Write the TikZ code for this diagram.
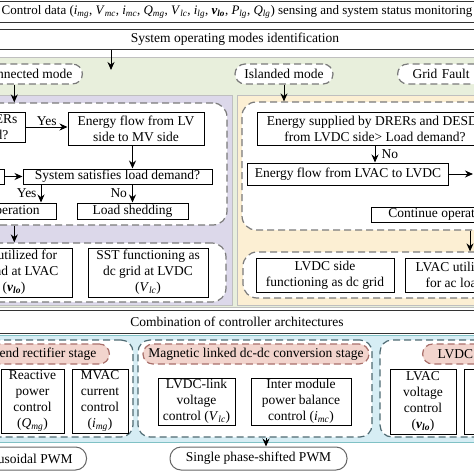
\documentclass[tikz,border=0pt]{standalone}
\usepackage{fontspec}
\setmainfont{Liberation Serif}
\usetikzlibrary{arrows.meta,calc,shadows}
\definecolor{gbg}{HTML}{E8EFDC}
\definecolor{pbg}{HTML}{DCD8EA}
\definecolor{ybg}{HTML}{FCEFD3}
\definecolor{bbg}{HTML}{D6EDF4}
\definecolor{pinkf}{HTML}{F2D4CD}
\definecolor{pinkd}{HTML}{A9706B}
\definecolor{slate}{HTML}{4E6A72}
\definecolor{dgray}{HTML}{7A7A7A}
\newcommand\vi[2]{\textit{#1}\textsubscript{\textit{#2}}}
\newcommand\vb[2]{\textbf{\textit{#1}}\textsubscript{\textbf{\textit{#2}}}}
\begin{document}
\begin{tikzpicture}[x=1pt,y=-1pt,
  every node/.style={font=\fontsize{13.5}{16}\selectfont, inner sep=0pt},
  shad/.style={drop shadow={shadow xshift=0.8pt,shadow yshift=-0.8pt,fill=black!55,opacity=1}},
  box/.style={draw=black, line width=1pt, fill=white, align=center, shad},
  band/.style={draw=black!80, line width=1pt, fill=white, shad},
  dbox/.style={draw=dgray, dash pattern=on 7pt off 4pt, line width=1.2pt, rounded corners=14pt, fill=white},
  sbox/.style={draw=slate, dash pattern=on 7pt off 4pt, line width=1.2pt, rounded corners=12pt, fill=white},
  mpill/.style={draw=dgray, dash pattern=on 7pt off 4pt, line width=1.2pt, rounded corners=10pt, fill=white, minimum height=20pt},
  ppill/.style={draw=pinkd, dash pattern=on 7pt off 4pt, line width=1.2pt, rounded corners=10pt, fill=pinkf, minimum height=20pt},
  opill/.style={draw=black!60, line width=1pt, rounded corners=11pt, fill=white, minimum height=23pt},
  arr/.style={-{Stealth[length=8pt,width=7pt]}, line width=1pt}]
\useasboundingbox (0,0) rectangle (474,474);
\clip (0,0) rectangle (474,474);
\fill[white] (0,0) rectangle (474,474);

% top bands
\node[band, minimum width=500pt, minimum height=20.5pt, font=\fontsize{13}{16}\selectfont] (ctrl) at (237,11.75) {Control data (\vi{i}{mg}, \vi{V}{mc}, \vi{i}{mc}, \vi{Q}{mg}, \vi{V}{lc}, \vi{i}{lg}, \vb{v}{lo}, \vi{P}{lg}, \vi{Q}{lg}) sensing and system status monitoring};
\node[band, minimum width=500pt, minimum height=20pt] (modes) at (235,39) {System operating modes identification};

% regions
\filldraw[fill=gbg, draw=black!25] (-5,57) rectangle (480,307);
\filldraw[fill=pbg, draw=black!25] (-5,95) rectangle (232,305);
\filldraw[fill=ybg, draw=black!25] (237,95) rectangle (480,305);

\coordinate (mtip) at (111,70);
\draw[arr] (modes.south -| mtip) -- (mtip);

% mode pills
\node[mpill, anchor=east, inner xsep=10pt] (gc) at (83,74) {Grid connected mode};
\node[mpill, minimum width=98pt] (isl) at (284,74) {Islanded mode};
\node[mpill, anchor=west, text width=90pt, align=left, inner xsep=15pt] (gf) at (397,74) {Grid Fault};

% dashed groups
\node[dbox, minimum width=247pt, minimum height=122pt] (gcup) at (103.5,164) {};
\node[dbox, minimum width=246pt, minimum height=59pt] (gclo) at (103,272.5) {};
\node[dbox, minimum width=258pt, minimum height=128pt] (ilup) at (371,166) {};
\node[dbox, minimum width=257pt, minimum height=46pt] (illo) at (371.5,275) {};

% grid connected boxes
\node[box, anchor=east, minimum height=30pt, inner xsep=8pt] (b1) at (26,127) {Energy supplied by DRERs\\DESDs> Load demand?};
\node[box, minimum width=136pt, minimum height=33pt] (ef) at (136,128.5) {Energy flow from LV\\side to MV side};
\node[box, minimum width=189pt, minimum height=15pt] (ssd) at (117.5,176.5) {System satisfies load demand?};
\node[box, anchor=east, minimum width=60pt, minimum height=15pt] (b0) at (5,176.5) {};
\node[box, anchor=east, minimum width=137.6pt, minimum height=16pt] (co) at (57,211) {Continue operation};
\node[box, minimum width=111pt, minimum height=16pt] (ls) at (132.5,211) {Load shedding};
\node[box, minimum width=116pt, minimum height=49pt] (l1) at (14,272.5) {SST utilized for\\ac load at LVAC\\(\vb{v}{lo})};
\node[box, minimum width=120pt, minimum height=49pt] (l2) at (148,272.5) {SST functioning as\\dc grid at LVDC\\(\vi{V}{lc})};

% islanded boxes
\node[box, minimum width=236pt, minimum height=33pt] (r1) at (375,128.5) {Energy supplied by DRERs and DESDs\\from LVDC side> Load demand?};
\node[box, minimum width=201pt, minimum height=22pt] (r2) at (348,174) {Energy flow from LVAC to LVDC};
\node[box, anchor=west, minimum width=137.6pt, minimum height=15pt] (r3) at (371,214.5) {Continue operation};
\node[box, minimum width=138pt, minimum height=34pt] (r4) at (325,275) {LVDC side\\functioning as dc grid};
\node[box, anchor=west, minimum width=98pt, minimum height=34pt] (r5) at (405,275) {LVAC utilized\\for ac load};

% arrows grid connected
\draw[arr] (gc.south) -- (gcup.north -| gc.south);
\draw[arr] (gcup.south -| gc.south) -- (gclo.north -| gc.south);
\draw[arr] (b1.east) -- (ef.west |- b1.east) node[midway, above=1pt] (yes1) {Yes};
\draw[arr] (ls.north |- ef.south) -- (ls.north |- ssd.north);
\draw[arr] (b0.east) -- (ssd.west);
\coordinate (yx) at (41,0);
\draw[arr] (ssd.south -| yx) -- (co.north -| yx) node[midway, left=4pt] (yes2) {Yes};
\draw[arr] (ssd.south -| ls.north) -- (ls.north) node[midway, left=5pt] (no1) {No};

% arrows islanded
\draw[arr] (isl.south) -- (ilup.north -| isl.south);
\draw[arr] (r1.south) -- (r2.north -| r1.south) node[midway, right=6pt] (no2) {No};
\coordinate (rt) at (473,174);
\draw[arr] (r2.east) -- (rt);
\coordinate (fx) at (470,0);
\draw[arr] (ilup.south -| fx) -- (illo.north -| fx);

% combination
\node[band, minimum width=500pt, minimum height=23pt] (comb) at (237,321.5) {Combination of controller architectures};
\filldraw[fill=bbg, draw=bbg!60!teal] (-5,335) rectangle (480,442.5);
\node[sbox, minimum width=153pt, minimum height=97pt] (s1) at (56.5,388.5) {};
\node[sbox, minimum width=234pt, minimum height=97pt] (s2) at (255,388.5) {};
\node[sbox, minimum width=120pt, minimum height=97pt] (s3) at (440,388.5) {};
\node[ppill, anchor=east, inner xsep=13pt] (s1p) at (110,354) {Front-end rectifier stage};
\node[ppill, minimum width=226pt] (s2p) at (256,354) {Magnetic linked dc-dc conversion stage};
\node[ppill, anchor=west, text width=100pt, align=left, inner xsep=15pt] (s3p) at (422,354) {LVDC};
\node[box, minimum width=63pt, minimum height=64pt] (s1a) at (32.5,401) {Reactive\\power\\control\\(\vi{Q}{mg})};
\node[box, minimum width=56pt, minimum height=64pt] (s1b) at (100,401) {MVAC\\current\\control\\(\vi{i}{mg})};
\node[box, minimum width=77pt, minimum height=47pt] (s2a) at (196.5,401.5) {LVDC-link\\voltage\\control (\vi{V}{lc})};
\node[box, minimum width=100pt, minimum height=47pt] (s2b) at (301,401.5) {Inter module\\power balance\\control (\vi{i}{mc})};
\node[box, minimum width=66pt, minimum height=65pt] (s3a) at (423,401.5) {LVAC\\voltage\\control\\(\vb{v}{lo})};
\node[box, anchor=west, minimum width=60pt, minimum height=65pt] (s3b) at (464,401.5) {};

% PWM
\node[opill, anchor=east, inner xsep=14pt] (sin) at (87,458.5) {Sinusoidal PWM};
\node[opill, minimum width=177pt] (sps) at (258.5,458.5) {Single phase-shifted PWM};
\coordinate (ax) at (266,0);
\draw[arr] (s2.south -| ax) -- (sps.north -| ax);
\end{tikzpicture}
\end{document}
